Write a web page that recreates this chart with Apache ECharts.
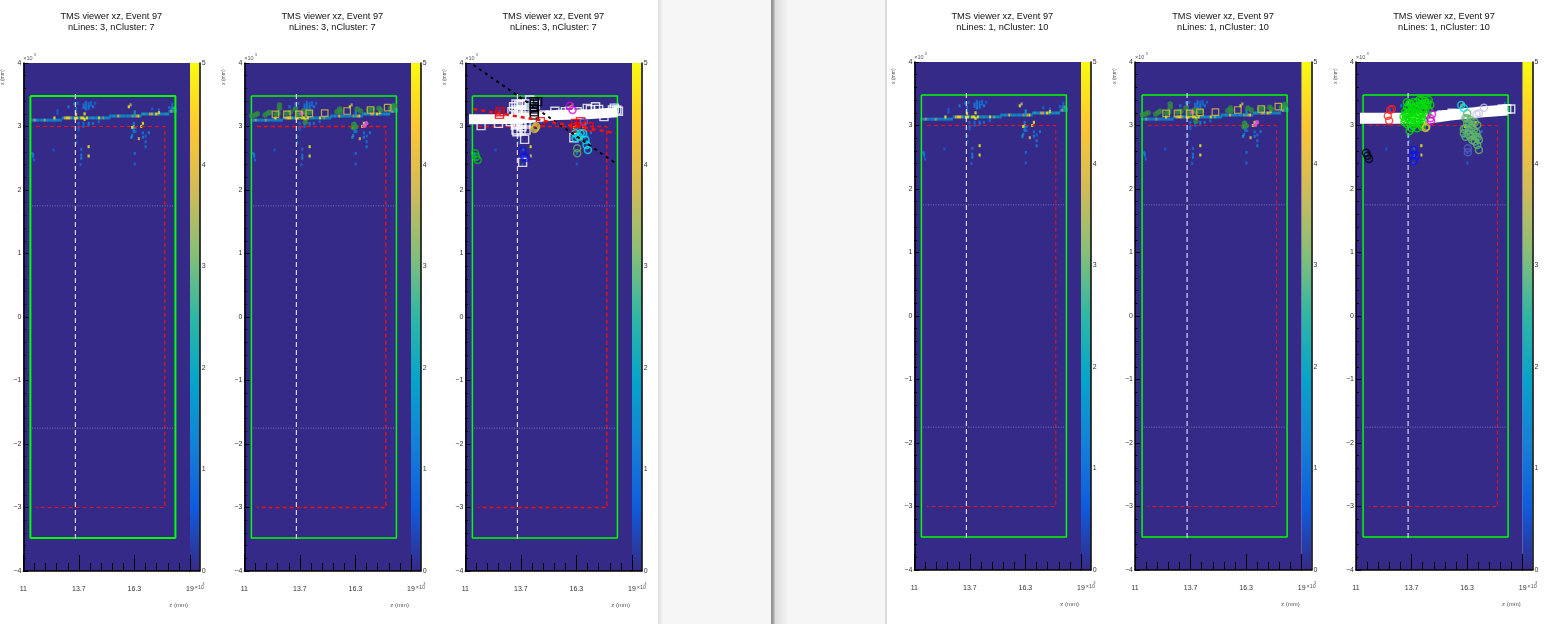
<!DOCTYPE html>
<html>
<head>
<meta charset="utf-8">
<style>html,body{margin:0;padding:0;background:#fff}#main{width:1544px;height:624px}</style>
<script src="https://cdn.jsdelivr.net/npm/echarts@6/dist/echarts.min.js"></script>
</head>
<body>
<div id="main"></div>
<script>
// axis ranges and tick text
const zMin = 11000, zMax = 19000
const zTickLabels = ['11', '13.7', '16.3', '19']
const titleTop = 'TMS viewer xz, Event 97'
const titlesA = 'nLines: 3, nCluster: 7'
const titlesB = 'nLines: 1, nCluster: 10'

// palette of the z scale
const birdColors = ['#352a87', '#0f5cdd', '#1481d6', '#06a4ca', '#2eb7a4', '#87bf77', '#d1bb59', '#fec832', '#f9fb0e']

// detector outlines [z, x] in mm
const greenBox = [[11340, 3480], [18300, 3480], [18300, -3480], [11340, -3480], [11340, 3480]]
const redBox = [[11610, 3000], [17790, 3000], [17790, -3000], [11610, -3000]]
const whiteLine = [[13500, 3510], [13500, -3530]]
const dotUpper = [[11420, 1750], [18300, 1750]]
const dotLower = [[11420, -1750], [18300, -1750]]

// hits [z, x, energy], along the track
const trackHits = [
  [11350,3100,1.5],[11450,3100,1.8],[11550,3100,3.4],[11650,3100,1.6],[11740,3100,1.3],[11840,3100,1.5],[11930,3100,1.4],[12030,3100,3.2],
  [12130,3100,1.6],[12220,3100,1.4],[12320,3100,1.5],[12420,3100,1.3],[12510,3100,1.6],[12610,3100,1.5],[12710,3100,1.4],[12800,3100,1.5],
  [12900,3135,1.6],[13000,3135,4],[13100,3135,5],[13190,3135,5],[13290,3135,3],[13390,3135,1.6],[13480,3135,2],[13580,3135,5],[13680,3135,1.8],
  [13780,3135,5],[13870,3135,5],[13970,3135,1.6],[14060,3135,5],[14160,3135,1.5],[14250,3135,1.7],[14350,3135,2],[14450,3135,1.5],[14550,3135,1.8],
  [14640,3135,5],[14740,3135,1.6],[14840,3135,3],[14930,3135,1.7],[15030,3135,1.8],[15130,3135,1.5],
  [15180,3165,1.7],[15280,3165,1.5],[15370,3165,2],[15470,3165,1.4],[15560,3165,4.2],[15660,3165,2],[15760,3165,1.7],[15850,3165,1.6],[15950,3165,1.5],
  [16040,3165,1.8],[16140,3165,1.5],[16240,3165,3],[16330,3165,2.5],[16430,3165,3.5],[16530,3165,5],[16630,3165,1.5],
  [16700,3197,1.5],[16790,3197,2.3],[16890,3197,1.6],[16990,3197,1.5],[17080,3197,3.5],[17180,3197,4],[17270,3197,1.6],[17370,3197,5],[17470,3197,3],
  [17560,3197,1.8],[17660,3197,1.5],[17750,3197,1.6],[17850,3197,2],[17950,3197,1.7],
  [18020,3240,1.6],[18110,3240,3.5],[18210,3240,2],[18310,3240,1.8],[18110,3280,1.4],[18210,3290,3],[18300,3270,1.6]
]
// hits off the track, above it
const upperHits = [
  [12494,3135,5],[12640,3250,0.8],[12640,3210,0.8],[13170,3310,1.3],[13444,3354,1],[13600,3365,1],[13530,3290,1.2],[13530,3240,1.3],[13530,3190,4.8],
  [13490,3130,5],[13890,3340,1.1],[13890,3300,1.2],[13940,3200,5],[13940,3112,5],[14000,3380,1.1],[14000,3340,1.2],[14000,3300,1],[14000,3275,1.3],
  [14135,3365,1],[14135,3320,1.3],[14135,3285,1.1],[14250,3380,0.9],[14250,3335,1],[14350,3310,1.4],[14450,3365,0.8],[16064,3310,5],[16150,3340,3.6],
  [16350,3230,2],[16350,3190,1.6],[17190,3280,0.8],[17510,3260,1],[17510,3220,4.5],[17990,3300,0.9],[18150,3350,1],[18150,3300,1.2]
]
// hits off the track, below it
const lowerHits = [
  [13650,3050,1],[13650,2990,1.2],[13650,2950,0.9],[13890,3050,1.1],[13890,3000,1],[14135,3050,1.3],[14135,3020,1],[14340,3050,1.2],[14620,3075,1],
  [13540,2840,1],[13540,2745,1],[13780,2640,1],[13780,2550,1.2],[13780,2500,1.3],[13740,2400,0.8],[14135,2682,5],[14135,2535,5],
  [11430,2577,1.1],[11470,2525,1],[11516,2472,0.9],[11470,2555,1.2],[12450,2630,0.6],
  [16300,3050,1.4],[16300,3000,3],[16300,2960,1.5],[16300,2920,1.3],[16225,2985,5],[16385,2985,1.2],[16385,2920,1],[16740,3050,5],[16660,3000,5],
  [16545,2808,4],[16225,2860,1.3],[16190,2830,1.8],[16740,2900,1.1],[16740,2830,1.2],[16870,2850,1],[16870,2760,1.1],[16870,2680,1.2],[17028,2903,1.3],
  [16350,2577,1.1],[16350,2410,0.9]
]

// second panel of each row: line candidates and clusters
const lineSquares = [[12496,3192],[13043,3192],[13621,3192],[14120,3207],[14859,3212],[15935,3244],[17060,3260],[17880,3296]]
const greenBlobs = [
  [11355,3170],[11516,3181],[11629,3202],[11998,3181],[12127,3207],[12207,3223],[12529,3192],[12625,3207],[12689,3339],[12689,3286],
  [13043,3207],[13204,3223],[13445,3276],[13557,3207],[13654,3171],[13846,3244],[13975,3207],[14168,3223],[13927,3065],[15453,3234],
  [15582,3276],[15614,3234],[16417,3276],[16578,3244],[16980,3260],[17140,3276],[17462,3286],[17542,3260],[18024,3286],[18217,3328],
  [18105,3312],[16257,3034],[16337,2997],[16225,2982]
]
const pinkBlobs = [[16771,3013],[16851,3050],[13750,3207]]

// third panel, three lines
const blackFit = [[11388,3968],[18218,2420]]
const redFit = [[11388,3275],[18218,2897]]
const bandA = [[11179,3113],[13155,3118],[14200,3139],[15405,3181],[16852,3191],[18298,3223]]
const whiteSquaresA = [
  [11757,3013],[12593,3050],[13557,3338],[13557,3233],[13718,3338],[13477,2918],[13847,2798],[13750,2435],[14088,3417],[14361,3338],[13155,3076],
  [13397,3023],[13718,2997],[13477,3102],[15566,3191],[16852,3286],[17253,3312],[18266,3260],[18057,3260],[16209,2824],[16370,3233],[14763,3181],
  [15084,3181],[17655,3155],[13879,3207],[13316,3312],[13236,3233],
  [13434,3354],[13674,3354],[13914,3354],[13434,3260],[13674,3260],[13914,3260],[13434,3165],[13914,3165],[13434,3040],[13674,3040],[13914,3040],
  [13434,2945],[13674,2945],[13914,2945],[15300,3240],[15800,3235],[16000,3240],[17000,3265],[17400,3270],[18150,3290],[18350,3240]
]
const redSquaresA = [[12673,3233],[12641,3191],[16289,3050],[16289,2981],[16530,3076],[16932,2997],[14602,3076],[16450,2997]]
const blackSquaresA = [[14313,3391],[14473,3391],[14313,3350],[14313,3312],[14313,3275],[14313,3233],[14313,3181]]
const yellowA = [[14361,2981],[14320,2960],[14400,3000]]
const magentaA = [[16016,3328],[16145,3260]]
const blueA = [[13750,2614],[13830,2525],[13927,2509]]
const greenA = [[11468,2577],[11516,2525],[11597,2472]]
const dimGreenA = [[16370,2656],[16370,2577]]
const cyanA = [[16289,2892],[16530,2892],[16289,2813],[16659,2892],[16771,2787],[16819,2708],[16884,2630],[16450,2840]]
const purpleA = [[16691,3076]]

// sixth panel, one line
const bandB = [[11193,3113],[13121,3113],[14407,3113],[15532,3165],[16817,3207],[18264,3244]]
const whiteSquaresB = [[15130,3165],[15612,3192],[18023,3260],[18425,3260],[18232,3260],[15371,3165]]
const greenB = [
  [13443,3365],[13925,3365],[14166,3402],[14488,3402],[14327,3349],[14568,3323],[13684,3297],[14005,3270],[14246,3270],[14488,3244],
  [13363,3218],[13604,3192],[13845,3192],[14086,3165],[14327,3165],[13282,3139],[13523,3113],[13764,3113],[14005,3087],[14246,3087],
  [13363,3087],[13604,3034],[13845,3034],[14086,3018],[13571,2913],[13925,2955],[14166,2982],[13764,3270],[13523,3281],[14118,3333],
  [13684,3139],[13925,3139],[14166,3218],[14407,3312],[13443,3165],[13684,3060],[13925,3244],[13571,3349],
  [13450,3290],[13610,3340],[13760,3370],[14040,3400],[14300,3390],[14440,3360],[13380,3170],[13500,3200],[13700,3230],[13850,3300],
  [14020,3190],[14180,3130],[14330,3230],[14420,3170],[13320,3050],[13460,3020],[13760,3000],[13980,3040],[14200,3030],[13650,2960]
]
const dimGreenB = [
  [16336,3192],[16255,3113],[16496,3087],[16336,3034],[16577,3008],[16818,3008],[16175,2945],[16416,2929],[16657,2929],[16255,2824],
  [16496,2824],[16737,2824],[16898,2772],[16818,2693],[16898,2614],[16175,2877],[16577,2772],[16336,3113],
  [16420,3040],[16700,3050],[16260,2960],[16540,2960],[16780,2890],[16400,2860],[16620,2860],[16840,2820],[16700,2750]
]
const redB = [[12639,3244],[12720,3260],[12527,3155],[12591,3076]]
const blackB = [[11482,2572],[11547,2525],[11627,2472]]
const blueB = [[13764,2614],[13893,2525],[13764,2441],[13716,2535]]
const dimBlueB = [[16368,2640],[16368,2578]]
const yellowB = [[14375,2982],[14340,2960]]
const magentaB = [[14648,3176],[14568,3113],[14600,3071]]
const cyanB = [[16046,3323],[16175,3270]]
const lavenderB = [[17139,3281],[16898,3192],[16785,3176]]

const panels = [
  { left: 23.3, top: 63, sub: titlesA, red: 1.2, green: 2 },
  { left: 244.3, top: 63, sub: titlesA, red: 1.4, green: 1.5 },
  { left: 465.3, top: 63, sub: titlesA, red: 1.4, green: 1.5 },
  { left: 914.3, top: 62, sub: titlesB, red: 1, green: 1.5 },
  { left: 1135, top: 62, sub: titlesB, red: 1, green: 1.5 },
  { left: 1356, top: 62, sub: titlesB, red: 1, green: 1.5 }
]
const plotW = 166.7, plotH = 508, barW = 9.7
const font = '"Liberation Sans", Arial, sans-serif'
const tickText = '#333'

// axis runs from 0 so the three-part tick interval lands on its own ticks
const shift = pts => pts.map(p => [p[0] - zMin, ...p.slice(1)])

const grid = [], xAxis = [], yAxis = [], series = [], title = [], hitSeries = []
const graphic = [
  { type: 'rect', z: -10, shape: { x: 658, y: 0, width: 114, height: 624 }, style: { fill: '#f6f6f6' } },
  { type: 'rect', z: -10, shape: { x: 772, y: 0, width: 114, height: 624 }, style: { fill: '#f6f6f6' } },
  { type: 'rect', z: -9, shape: { x: 658, y: 0, width: 5, height: 624 }, style: { fill: new echarts.graphic.LinearGradient(0, 0, 1, 0, [{ offset: 0, color: '#dedede' }, { offset: 1, color: '#f6f6f6' }]) } },
  { type: 'rect', z: -9, shape: { x: 771, y: 0, width: 18, height: 624 }, style: { fill: new echarts.graphic.LinearGradient(0, 0, 1, 0, [{ offset: 0, color: '#8c8c8c' }, { offset: 0.12, color: '#a0a0a0' }, { offset: 0.25, color: '#dcdcdc' }, { offset: 1, color: '#f6f6f6' }]) } },
  { type: 'rect', z: -9, shape: { x: 885, y: 0, width: 2, height: 624 }, style: { fill: '#dcdcdc' } }
]

const lineS = (g, data, color, width, dash, z) => series.push({
  type: 'line', xAxisIndex: g, yAxisIndex: g, data: shift(data), symbol: 'none', silent: true, z,
  lineStyle: { color, width, type: dash }
})
const markS = (g, data, symbol, size, color, width, z, filled) => series.push({
  type: 'scatter', xAxisIndex: g, yAxisIndex: g, data: shift(data), symbol, symbolSize: size, silent: true, z,
  itemStyle: filled ? { color } : { color: 'rgba(0,0,0,0)', borderColor: color, borderWidth: width }
})

panels.forEach((p, i) => {
  const g = i * 2, c = g + 1
  title.push({
    text: titleTop + '\n' + p.sub, left: p.left + 83, top: 5.5, textAlign: 'center',
    textStyle: { fontFamily: font, fontSize: 9.2, fontWeight: 'normal', color: '#111', lineHeight: 11 }
  })
  grid.push({ left: p.left, top: p.top, width: plotW, height: plotH, show: true, backgroundColor: birdColors[0], borderWidth: 0 })
  grid.push({ left: p.left + plotW, top: p.top, width: barW, height: plotH, show: false })
  xAxis.push({
    gridIndex: g, type: 'value', min: 0, max: zMax - zMin, interval: (zMax - zMin) / 3, splitLine: { show: false }, z: 10,
    axisLine: { onZero: false, lineStyle: { color: '#000', width: 1.5 } },
    axisTick: { inside: true, length: 16, lineStyle: { color: '#000', width: 1 } },
    minorTick: { show: true, splitNumber: 5, length: 8, lineStyle: { color: '#000', width: 1 } },
    axisLabel: { margin: 15, fontFamily: font, fontSize: 7, color: tickText, formatter: (v, idx) => zTickLabels[idx] }
  })
  xAxis.push({
    gridIndex: c, type: 'category', data: [''], axisTick: { show: false }, axisLabel: { show: false }, z: 10,
    axisLine: { lineStyle: { color: '#000', width: 1.5 } }
  })
  yAxis.push({
    gridIndex: g, type: 'value', min: -4000, max: 4000, interval: 1000, splitLine: { show: false }, z: 10,
    axisLine: { show: true, onZero: false, lineStyle: { color: '#000', width: 1.5 } },
    axisTick: { inside: true, length: 5, lineStyle: { color: '#000', width: 1 } },
    minorTick: { show: true, splitNumber: 5, length: 2.5, lineStyle: { color: '#000', width: 1 } },
    axisLabel: { margin: 2, fontFamily: font, fontSize: 7, color: tickText, formatter: v => String(v / 1000).replace('-', '\u2212') }
  })
  yAxis.push({
    gridIndex: c, type: 'value', min: 0, max: 5, interval: 1, position: 'right', splitLine: { show: false }, z: 10,
    axisLine: { show: true, lineStyle: { color: '#000', width: 1.5 } },
    axisTick: { inside: true, length: 6, lineStyle: { color: '#000', width: 1 } },
    axisLabel: { margin: 2, fontFamily: font, fontSize: 7, color: tickText }
  })

  // colour bar
  series.push({
    type: 'bar', xAxisIndex: c, yAxisIndex: c, data: [5], barWidth: '100%', silent: true, z: 1,
    itemStyle: { color: new echarts.graphic.LinearGradient(0, 1, 0, 0, birdColors.map((color, k) => ({ offset: k / (birdColors.length - 1), color }))) }
  })
  // hits
  hitSeries.push(series.length)
  series.push({
    type: 'scatter', xAxisIndex: g, yAxisIndex: g, data: shift(trackHits.concat(upperHits, lowerHits)),
    symbol: 'rect', symbolSize: [2.2, 3], silent: true, z: 2
  })
  // outlines
  lineS(g, greenBox, '#00ff00', p.green, 'solid', 3)
  lineS(g, redBox, '#f01010', p.red, [4, 3], 3)
  lineS(g, whiteLine, '#ddd8f0', 1.2, [5, 3], 3)
  lineS(g, dotUpper, '#7d73ba', 1, [1, 1.5], 3)
  lineS(g, dotLower, '#7d73ba', 1, [1, 1.5], 3)

  if (i === 1 || i === 4) {
    markS(g, greenBlobs, 'circle', 5.5, '#2f8f3f', 0, 4, true)
    markS(g, pinkBlobs, 'circle', 4.5, '#e85fd5', 0, 4, true)
    markS(g, lineSquares, 'rect', 6.5, '#dcc535', 1.2, 5)
  }
  if (i === 2) {
    lineS(g, bandA, '#fff', 10, 'solid', 4)
    markS(g, whiteSquaresA, 'rect', 8, '#fff', 1.4, 5)
    markS(g, redSquaresA, 'rect', 8, '#ff0000', 1.4, 5)
    markS(g, blackSquaresA, 'rect', 8, '#000', 1.4, 6)
    markS(g, yellowA, 'circle', 7, '#dcc535', 1.5, 6)
    markS(g, magentaA, 'circle', 7, '#e000e0', 1.5, 6)
    markS(g, blueA, 'circle', 7, '#1010f0', 1.5, 6)
    markS(g, greenA, 'circle', 7, '#00c800', 1.5, 6)
    markS(g, dimGreenA, 'circle', 7, '#5fae63', 1.5, 6)
    markS(g, cyanA, 'circle', 7, '#00e6e6', 1.5, 6)
    markS(g, purpleA, 'circle', 7, '#7a50d0', 1.5, 6)
    lineS(g, blackFit, '#000', 2, [3, 4], 7)
    lineS(g, redFit, '#f01010', 2.5, [4, 4], 7)
  }
  if (i === 5) {
    lineS(g, bandB, '#fff', 11, 'solid', 4)
    markS(g, whiteSquaresB, 'rect', 8, '#fff', 1.4, 5)
    markS(g, dimGreenB, 'circle', 7, '#5fb868', 1.5, 6)
    markS(g, greenB, 'circle', 7, '#00e000', 1.5, 6)
    markS(g, redB, 'circle', 7, '#ff2020', 1.5, 6)
    markS(g, blackB, 'circle', 7, '#000', 1.5, 6)
    markS(g, blueB, 'circle', 7, '#1010f0', 1.5, 6)
    markS(g, dimBlueB, 'circle', 7, '#5560c0', 1.5, 6)
    markS(g, yellowB, 'circle', 7, '#dcc535', 1.5, 6)
    markS(g, magentaB, 'circle', 7, '#e000e0', 1.5, 6)
    markS(g, cyanB, 'circle', 7, '#00e6e6', 1.5, 6)
    markS(g, lavenderB, 'circle', 7, '#c8c4e8', 1.5, 6)
  }

  // axis decorations
  const txt = (x, y, text, size, extra) => graphic.push(Object.assign({
    type: 'text', x, y, silent: true, style: { text, font: size + 'px ' + font, fill: '#555', textVerticalAlign: 'middle' }
  }, extra))
  txt(p.left, p.top - 5, '\u00d710', 5.5)
  txt(p.left + 10.5, p.top - 8, '3', 4)
  txt(p.left + 171.5, p.top + plotH + 16, '\u00d710', 5.5)
  txt(p.left + 179, p.top + plotH + 13, '3', 4)
  txt(p.left + 146, p.top + plotH + 34.5, 'z (mm)', 6)
  txt(3, p.top + 22, 'x (mm)', 5, { x: p.left - 20.5, rotation: Math.PI / 2 })
})

const chart = echarts.init(document.getElementById('main'), null, { renderer: 'canvas' })
chart.setOption({
  animation: false,
  backgroundColor: 'transparent',
  title, grid, xAxis, yAxis, series, graphic,
  visualMap: { show: false, type: 'continuous', min: 0, max: 5, dimension: 2, seriesIndex: hitSeries, inRange: { color: birdColors } }
})
</script>
</body>
</html>
